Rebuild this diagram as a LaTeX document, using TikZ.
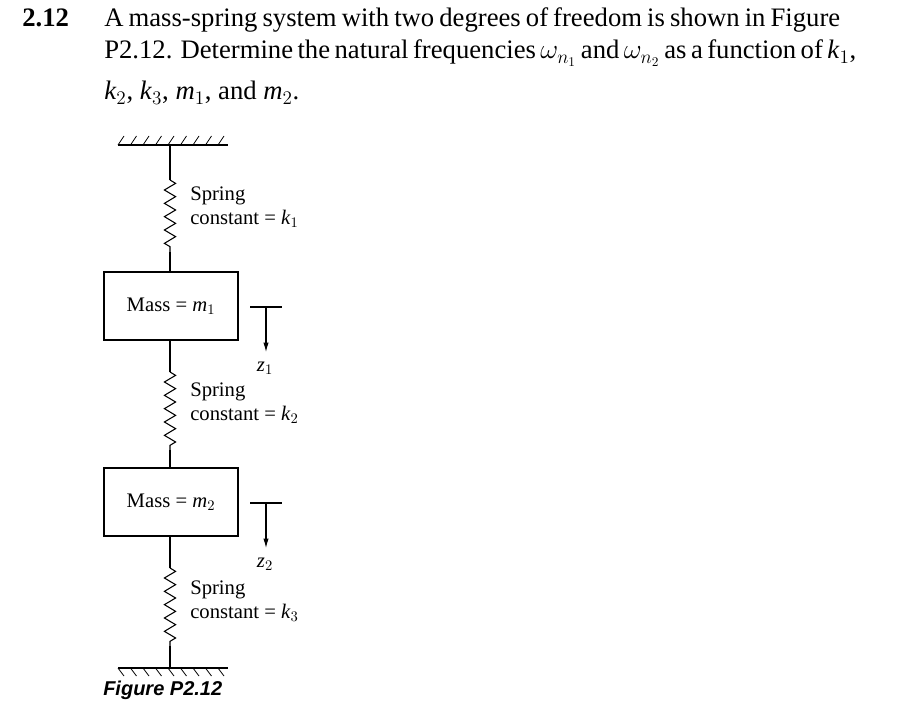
\documentclass[tikz,border=0pt]{standalone}
\usepackage{fontspec}
\setmainfont{Liberation Serif}
\newfontfamily\capfont{Liberation Sans}
\usetikzlibrary{decorations.pathmorphing,arrows.meta}
\begin{document}
\begin{tikzpicture}[x=0.75pt,y=-0.75pt,
  ln/.style={line width=0.8pt},
  spr/.style={ln,decorate,decoration={zigzag,segment length=10pt,amplitude=4.2pt}},
  lbl/.style={font=\fontsize{15.5}{16}\selectfont,anchor=west,inner sep=0},
  mass/.style={draw,ln,minimum width=100.5pt,minimum height=51pt,font=\fontsize{15.5}{16}\selectfont},
  qt/.style={font=\fontsize{20}{24}\selectfont,anchor=base west,inner sep=0},
  hat/.style={line width=0.6pt}]
\useasboundingbox (0,0) rectangle (920,720);
\node[font=\bfseries\fontsize{20}{24}\selectfont,anchor=base west,inner sep=0] (num) at (22,27) {2.12};
\node[qt] (q1) at (104,27) {\makebox[552pt][s]{A mass-spring system with two degrees of freedom is shown in Figure}};
\node[qt] (q2) at (104,59) {\makebox[552pt][s]{P2.12. Determine the natural frequencies $\omega_{n_1}$ and $\omega_{n_2}$ as a function of \textit{k}$_1$,}};
\node[qt] (q3) at (104,100) {\textit{k}$_2$, \textit{k}$_3$, \textit{m}$_1$, and \textit{m}$_2$.};
% top ground
\coordinate (g1) at (170,145);
\draw[ln] (118,145) -- (228,145);
\foreach \x in {118,130.5,...,228} \draw[hat] (\x,145) -- (\x+6,136);
% mass nodes
\node[mass] (m1) at (171,306) {Mass = \textit{m}$_1$};
\node[mass] (m2) at (171,502) {Mass = \textit{m}$_2$};
% bottom ground
\coordinate (g2) at (170,668);
\draw[ln] (118,668) -- (228,668);
\foreach \x in {118,130.5,...,228} \draw[hat] (\x,668) -- (\x+6,676);
% springs
\draw[ln] (g1) -- (170,180);
\draw[spr] (170,180) -- (170,252);
\draw[ln] (170,252) -- (m1.north -| g1);
\draw[ln] (m1.south -| g1) -- (170,372);
\draw[spr] (170,372) -- (170,450);
\draw[ln] (170,450) -- (m2.north -| g1);
\draw[ln] (m2.south -| g1) -- (170,568);
\draw[spr] (170,568) -- (170,646);
\draw[ln] (170,646) -- (g2);
% labels
\node[lbl] (s1a) at (190,196) {Spring};
\node[lbl] (s1b) at (190,219) {constant = \textit{k}$_1$};
\node[lbl] (s2a) at (190,392) {Spring};
\node[lbl] (s2b) at (190,415) {constant = \textit{k}$_2$};
\node[lbl] (s3a) at (190,590) {Spring};
\node[lbl] (s3b) at (190,613) {constant = \textit{k}$_3$};
% displacement arrows
\coordinate (a1) at (266,307);
\draw[ln] (250,307) -- (282,307);
\draw[ln,-{Latex[length=7pt,width=4pt]}] (a1) -- (266,352);
\node[font=\fontsize{15.5}{16}\selectfont] (z1) at (265,368) {\textit{z}$_1$};
\coordinate (a2) at (266,503);
\draw[ln] (250,503) -- (282,503);
\draw[ln,-{Latex[length=7pt,width=4pt]}] (a2) -- (266,548);
\node[font=\fontsize{15.5}{16}\selectfont] (z2) at (265,564) {\textit{z}$_2$};
\node[font=\capfont\bfseries\itshape\fontsize{15}{16}\selectfont,anchor=west,inner sep=0] (cap) at (103,690) {Figure P2.12};
\end{tikzpicture}
\end{document}
